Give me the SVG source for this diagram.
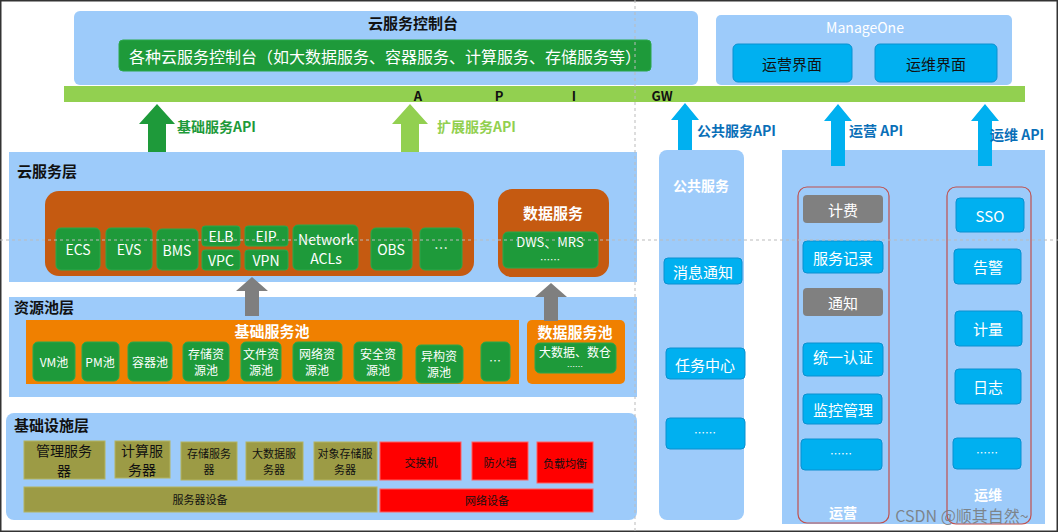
<svg xmlns="http://www.w3.org/2000/svg" width="1058" height="532" viewBox="0 0 1058 532">
<style>
text{font-family:"Noto Sans CJK SC","Liberation Sans",sans-serif;text-anchor:middle;dominant-baseline:central}
.panel{fill:#9dcbfa}
.g{fill:#1e9a3a;stroke:#2aa84a;stroke-width:1}
.w{fill:#fff}
.b{fill:#00b0f0;stroke:#0a90d0;stroke-width:1}
.gr{fill:#808080}
.ol{fill:#9c9b45;stroke:#b4b460;stroke-width:1}
.rd{fill:#ff0000;stroke:#ff6060;stroke-width:1}
.ttl{font-weight:bold;font-size:15px;text-anchor:start;fill:#111}
</style>
<rect x="0" y="0" width="1058" height="532" fill="#fff"/>
<rect x="0.5" y="0.5" width="1057" height="531" fill="none" stroke="#333" stroke-width="2"/>

<g id="console">
<rect class="panel" x="74" y="11" width="624" height="74" rx="6"/>
<text x="413" y="22" font-weight="bold" font-size="15" fill="#111">云服务控制台</text>
<rect class="g" x="119" y="40" width="532" height="31" rx="4"/>
<text class="w" x="385" y="56" font-size="16">各种云服务控制台（如大数据服务、容器服务、计算服务、存储服务等）</text>
</g>
<g id="manageone">
<rect class="panel" x="716" y="15" width="296" height="70" rx="5"/>
<text class="w" x="865" y="27" font-size="14">ManageOne</text>
<rect class="b" x="733" y="44" width="119" height="38" rx="5"/>
<text x="792" y="63" font-size="15" fill="#111">运营界面</text>
<rect class="b" x="875" y="44" width="122" height="38" rx="5"/>
<text x="936" y="63" font-size="15" fill="#111">运维界面</text>
</g>
<g id="apigw">
<rect x="64" y="86" width="961" height="16" fill="#92d050"/>
<g font-size="13" font-weight="bold" fill="#111"><text x="418" y="95">A</text><text x="499" y="95">P</text><text x="574" y="95">I</text><text x="662" y="95">GW</text></g>
</g>

<g id="cloud-layer">
<rect class="panel" x="9" y="152" width="628" height="130"/>
<text class="ttl" x="17" y="170">云服务层</text>
<rect x="45" y="191" width="429" height="85" rx="14" fill="#c55a11"/>
<g font-size="14" class="w">
<rect class="g" x="56" y="228" width="44" height="42" rx="5"/><text x="78" y="249">ECS</text>
<rect class="g" x="106" y="228" width="46" height="42" rx="5"/><text x="129" y="249">EVS</text>
<rect class="g" x="157" y="229" width="41" height="41" rx="5"/><text x="177" y="250">BMS</text>
<rect class="g" x="202" y="226" width="38" height="20" rx="3"/><text x="221" y="236">ELB</text>
<rect class="g" x="202" y="250" width="38" height="20" rx="3"/><text x="221" y="260">VPC</text>
<rect class="g" x="245" y="226" width="43" height="20" rx="3"/><text x="266" y="236">EIP</text>
<rect class="g" x="245" y="250" width="43" height="20" rx="3"/><text x="266" y="260">VPN</text>
<rect class="g" x="293" y="225" width="65" height="45" rx="5"/><text x="326" y="239">Network</text><text x="326" y="258">ACLs</text>
<rect class="g" x="371" y="228" width="41" height="42" rx="5"/><text x="391" y="249">OBS</text>
<rect class="g" x="420" y="228" width="42" height="42" rx="5"/><text x="441" y="247">…</text>
</g>
<rect x="498" y="189" width="111" height="88" rx="14" fill="#c55a11"/>
<text class="w" x="553" y="212" font-size="15" font-weight="bold">数据服务</text>
<rect class="g" x="503" y="232" width="95" height="36" rx="5"/>
<text class="w" x="550" y="241" font-size="13">DWS、MRS</text>
<text class="w" x="550" y="259" font-size="10">……</text>
</g>

<g id="pool-layer">
<rect class="panel" x="9" y="297" width="628" height="100"/>
<text class="ttl" x="14" y="306">资源池层</text>
<rect x="26" y="320" width="493" height="64" fill="#f08000"/>
<text class="w" x="272" y="330" font-size="15" font-weight="bold">基础服务池</text>
<g font-size="12" class="w">
<rect class="g" x="33" y="342" width="42" height="39" rx="5"/><text x="54" y="361">VM池</text>
<rect class="g" x="82" y="342" width="37" height="39" rx="5"/><text x="100" y="361">PM池</text>
<rect class="g" x="128" y="342" width="44" height="39" rx="5"/><text x="150" y="361">容器池</text>
<rect class="g" x="183" y="342" width="46" height="39" rx="5"/><text x="206" y="353">存储资</text><text x="206" y="369">源池</text>
<rect class="g" x="241" y="342" width="40" height="39" rx="5"/><text x="261" y="353">文件资</text><text x="261" y="369">源池</text>
<rect class="g" x="293" y="342" width="49" height="39" rx="5"/><text x="317" y="353">网络资</text><text x="317" y="369">源池</text>
<rect class="g" x="354" y="342" width="48" height="39" rx="5"/><text x="378" y="353">安全资</text><text x="378" y="369">源池</text>
<rect class="g" x="416" y="345" width="47" height="38" rx="5"/><text x="439" y="355">异构资</text><text x="439" y="371">源池</text>
<rect class="g" x="481" y="342" width="29" height="39" rx="5"/><text x="495" y="360">…</text>
</g>
<rect x="527" y="320" width="98" height="64" rx="5" fill="#f08000"/>
<text class="w" x="575" y="331" font-size="15" font-weight="bold">数据服务池</text>
<rect class="g" x="535" y="343" width="81" height="30" rx="5"/>
<text class="w" x="575" y="351" font-size="12">大数据、数仓</text>
<text class="w" x="575" y="366" font-size="8">……</text>
</g>

<g id="infra-layer">
<rect class="panel" x="6" y="413" width="631" height="107" rx="8"/>
<text class="ttl" x="14" y="424">基础设施层</text>
<g fill="#111">
<rect class="ol" x="24" y="441" width="81" height="38"/><text x="64" y="450" font-size="14">管理服务</text><text x="64" y="470" font-size="14">器</text>
<rect class="ol" x="115" y="441" width="55" height="37"/><text x="142" y="450" font-size="14">计算服</text><text x="142" y="469" font-size="14">务器</text>
<rect class="ol" x="181" y="442" width="56" height="38"/><text x="209" y="453" font-size="11">存储服务</text><text x="209" y="469" font-size="11">器</text>
<rect class="ol" x="246" y="442" width="57" height="38"/><text x="274" y="453" font-size="11">大数据服</text><text x="274" y="469" font-size="11">务器</text>
<rect class="ol" x="314" y="442" width="63" height="38"/><text x="345" y="453" font-size="11">对象存储服</text><text x="345" y="469" font-size="11">务器</text>
<rect class="rd" x="380" y="442" width="81" height="38"/><text x="421" y="462" font-size="11">交换机</text>
<rect class="rd" x="472" y="442" width="56" height="38"/><text x="500" y="462" font-size="11">防火墙</text>
<rect class="rd" x="537" y="442" width="56" height="41"/><text x="565" y="463" font-size="11">负载均衡</text>
<rect class="ol" x="24" y="487" width="353" height="25"/><text x="200" y="499" font-size="11">服务器设备</text>
<rect class="rd" x="380" y="489" width="213" height="23"/><text x="487" y="500" font-size="11">网络设备</text>
</g>
</g>

<g id="public-service">
<rect class="panel" x="659" y="150" width="85" height="370" rx="8"/>
<text class="w" x="701" y="185" font-size="14" font-weight="bold">公共服务</text>
<g font-size="15" class="w">
<rect class="b" x="664" y="258" width="78" height="26" rx="4"/><text x="703" y="271">消息通知</text>
<rect class="b" x="666" y="348" width="79" height="31" rx="4"/><text x="705" y="364">任务中心</text>
<rect class="b" x="666" y="418" width="79" height="31" rx="4"/><text x="705" y="432" font-size="11">……</text>
</g>
</g>

<g id="ops">
<rect class="panel" x="782" y="150" width="263" height="374"/>
<rect x="798" y="187" width="91" height="336" rx="9" fill="none" stroke="#c0504d" stroke-width="1.2"/>
<rect x="947" y="187" width="84" height="337" rx="9" fill="none" stroke="#c0504d" stroke-width="1.2"/>
<g font-size="15" class="w">
<rect class="gr" x="803" y="195" width="80" height="28" rx="4"/><text x="843" y="209">计费</text>
<rect class="b" x="803" y="241" width="80" height="32" rx="4"/><text x="843" y="257">服务记录</text>
<rect class="gr" x="803" y="288" width="80" height="28" rx="4"/><text x="843" y="302">通知</text>
<rect class="b" x="803" y="343" width="80" height="33" rx="4"/><text x="843" y="356">统一认证</text>
<rect class="b" x="803" y="394" width="79" height="30" rx="4"/><text x="843" y="409">监控管理</text>
<rect class="b" x="801" y="439" width="81" height="31" rx="4"/><text x="841" y="453" font-size="11">……</text>
<text x="843" y="512" font-weight="bold" font-size="14">运营</text>
<rect class="b" x="956" y="198" width="68" height="34" rx="4"/><text x="990" y="215">SSO</text>
<rect class="b" x="954" y="249" width="67" height="35" rx="4"/><text x="988" y="266">告警</text>
<rect class="b" x="955" y="311" width="67" height="35" rx="4"/><text x="988" y="328">计量</text>
<rect class="b" x="955" y="369" width="66" height="35" rx="4"/><text x="988" y="386">日志</text>
<rect class="b" x="953" y="438" width="68" height="31" rx="4"/><text x="987" y="452" font-size="11">……</text>
<text x="988" y="494" font-weight="bold" font-size="14">运维</text>
</g>
</g>

<line x1="0" y1="240" x2="1058" y2="240" stroke="#bbb" stroke-dasharray="3,3"/>
<line x1="635" y1="0" x2="635" y2="532" stroke="#bbb" stroke-dasharray="3,3"/>

<g id="connectors">
<polygon points="157,104 175,124 166,124 166,152 148,152 148,124 139,124" fill="#1e9a3a"/>
<polygon points="410,104 428,124 419,124 419,152 401,152 401,124 392,124" fill="#92d050"/>
<polygon points="685,103 699,120 692,120 692,150 678,150 678,120 671,120" fill="#00b0f0"/>
<polygon points="838,104 852,121 845,121 845,166 831,166 831,121 824,121" fill="#00b0f0"/>
<polygon points="985,104 999,121 992,121 992,166 978,166 978,121 971,121" fill="#00b0f0"/>
<polygon points="252,277 268,291 259,291 259,316 245,316 245,291 236,291" fill="#7f7f7f"/>
<polygon points="551,283 567,297 558,297 558,321 544,321 544,297 535,297" fill="#7f7f7f"/>
<g font-size="14" font-weight="bold">
<text x="177" y="126" fill="#1e9a3a" style="text-anchor:start">基础服务API</text>
<text x="437" y="126" fill="#92d050" style="text-anchor:start">扩展服务API</text>
<text x="697" y="130" fill="#0a6fb8" style="text-anchor:start">公共服务API</text>
<text x="849" y="130" fill="#0a6fb8" style="text-anchor:start">运营 API</text>
<text x="990" y="134" fill="#0a6fb8" style="text-anchor:start">运维 API</text>
</g>
</g>
<text x="962" y="515" font-size="16" fill="#777" fill-opacity="0.85">CSDN @顺其自然~</text>
</svg>
